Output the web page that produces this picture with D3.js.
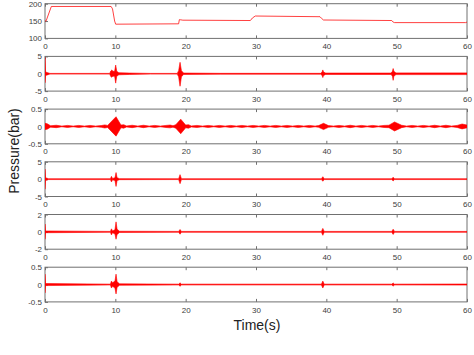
<!DOCTYPE html>
<html><head><meta charset="utf-8">
<script src="https://cdn.jsdelivr.net/npm/d3@7/dist/d3.min.js"></script>
<style>body{margin:0;background:#fff}svg{display:block}</style>
</head><body>
<svg id="c" width="474" height="355"></svg>
<script>
// ---- data ----
const xTicks = [0, 10, 20, 30, 40, 50, 60];
const yDomains = [[100, 200], [-5, 5], [-0.5, 0.5], [-5, 5], [-2, 2], [-0.5, 0.5]];
const yTickVals = [[100, 150, 200], [-5, 0, 5], [-0.5, 0, 0.5], [-5, 0, 5], [-2, 0, 2], [-0.5, 0, 0.5]];
const yTickLabels = [["100", "150", "200"], ["-5", "0", "5"], ["-0.5", "0", "0.5"], ["-5", "0", "5"], ["-2", "0", "2"], ["-0.5", "0", "0.5"]];

// panel 1: pressure trace [time, bar]
const pressureT = [0, 0.15, 0.9, 9.4, 9.6, 9.9, 10.05, 19.0, 19.1, 19.3, 19.6, 29.2, 29.5, 29.9, 39.1, 39.3, 39.6, 49.3, 49.5, 49.7, 59.8, 60];
const pressureV = [150, 150, 192, 192, 185, 150, 141, 142, 154, 153.5, 152.5, 151.5, 159, 164.5, 162.5, 158, 153, 151.5, 147, 145.5, 145.5, 147];

// panels 2-6: signal envelopes [time, upper, lower]
const signal2 = [[0,4.7,-2.6],[0.08,0.5,-0.5],[0.4,0.3,-0.3],[0.7,0.1,-0.1],[9.2,0.1,-0.1],[9.35,0.8,-0.8],[9.5,1.1,-1.0],[9.65,0.7,-0.7],[9.9,0.7,-0.7],[10.05,2.5,-2.7],[10.2,0.7,-0.7],[10.5,0.3,-0.3],[12,0.2,-0.2],[15,0.1,-0.1],[18.8,0.1,-0.1],[19.0,0.9,-0.9],[19.2,3.3,-3.6],[19.4,0.9,-0.9],[19.7,0.2,-0.2],[25,0.12,-0.12],[39.2,0.12,-0.12],[39.4,0.5,-0.5],[39.5,1.1,-1.1],[39.6,0.5,-0.5],[39.9,0.2,-0.2],[49.2,0.2,-0.2],[49.4,0.7,-0.7],[49.5,1.5,-1.9],[49.6,0.7,-0.7],[49.9,0.25,-0.25],[60,0.25,-0.25]];
const signal3 = [[0,0.09,-0.09],[0.3,0.08,-0.08],[0.8,0.02,-0.02],[1.6,0.035,-0.035],[2.4,0.01,-0.01],[3.2,0.03,-0.03],[4.0,0.01,-0.01],[4.8,0.03,-0.03],[5.6,0.01,-0.01],[6.4,0.03,-0.03],[7.2,0.01,-0.01],[8.0,0.025,-0.025],[8.5,0.045,-0.045],[8.9,0.03,-0.03],[9.0,0.05,-0.05],[10.1,0.28,-0.28],[10.8,0.04,-0.04],[11.2,0.05,-0.05],[11.6,0.015,-0.015],[12.4,0.035,-0.035],[13.2,0.01,-0.01],[14.0,0.035,-0.035],[14.8,0.01,-0.01],[15.6,0.03,-0.03],[16.4,0.01,-0.01],[17.2,0.03,-0.03],[17.8,0.04,-0.04],[18.2,0.02,-0.02],[18.6,0.05,-0.05],[19.3,0.21,-0.21],[20.0,0.04,-0.04],[20.4,0.05,-0.05],[20.8,0.015,-0.015],[21.6,0.03,-0.03],[22.4,0.01,-0.01],[23.2,0.03,-0.03],[24.0,0.01,-0.01],[24.8,0.03,-0.03],[25.6,0.01,-0.01],[26.4,0.03,-0.03],[27.2,0.01,-0.01],[28.0,0.03,-0.03],[28.8,0.01,-0.01],[29.6,0.03,-0.03],[30.4,0.01,-0.01],[31.2,0.03,-0.03],[32.0,0.01,-0.01],[32.8,0.03,-0.03],[33.6,0.01,-0.01],[34.4,0.03,-0.03],[35.2,0.01,-0.01],[36.0,0.03,-0.03],[36.8,0.01,-0.01],[37.6,0.03,-0.03],[38.4,0.01,-0.01],[38.9,0.025,-0.025],[39.6,0.09,-0.09],[40.3,0.025,-0.025],[41.0,0.01,-0.01],[41.8,0.03,-0.03],[42.6,0.01,-0.01],[43.4,0.035,-0.035],[44.2,0.01,-0.01],[45.0,0.03,-0.03],[45.8,0.01,-0.01],[46.6,0.03,-0.03],[47.4,0.01,-0.01],[48.2,0.03,-0.03],[48.9,0.035,-0.035],[49.7,0.13,-0.13],[50.7,0.035,-0.035],[51.4,0.01,-0.01],[52.2,0.03,-0.03],[53.0,0.01,-0.01],[53.8,0.03,-0.03],[54.6,0.01,-0.01],[55.4,0.035,-0.035],[56.2,0.01,-0.01],[57.0,0.035,-0.035],[57.8,0.01,-0.01],[58.6,0.03,-0.03],[59.3,0.07,-0.07],[60,0.04,-0.04]];
const signal4 = [[0,2.9,-2.9],[0.08,0.4,-0.4],[0.5,0.12,-0.12],[9.3,0.12,-0.12],[9.45,0.8,-0.8],[9.6,0.2,-0.2],[9.95,0.4,-0.4],[10.1,1.9,-2.1],[10.25,0.4,-0.4],[10.6,0.15,-0.15],[19.0,0.12,-0.12],[19.2,1.3,-1.3],[19.4,0.12,-0.12],[39.3,0.12,-0.12],[39.5,0.7,-0.6],[39.7,0.12,-0.12],[49.3,0.12,-0.12],[49.5,0.55,-0.5],[49.7,0.12,-0.12],[60,0.12,-0.12]];
const signal5 = [[0,0.9,-0.85],[0.08,0.1,-0.1],[9.3,0.05,-0.05],[9.45,0.35,-0.35],[9.6,0.1,-0.1],[9.95,0.25,-0.25],[10.1,1.15,-0.85],[10.25,0.3,-0.3],[10.6,0.07,-0.07],[19.0,0.05,-0.05],[19.2,0.27,-0.27],[19.4,0.05,-0.05],[39.3,0.05,-0.05],[39.5,0.4,-0.4],[39.7,0.05,-0.05],[49.3,0.05,-0.05],[49.5,0.3,-0.3],[49.7,0.05,-0.05],[60,0.05,-0.05]];
const signal6 = [[0,0.3,-0.24],[0.08,0.03,-0.03],[9.3,0.012,-0.012],[9.45,0.1,-0.1],[9.6,0.05,-0.05],[9.95,0.1,-0.1],[10.1,0.3,-0.27],[10.25,0.08,-0.08],[10.6,0.02,-0.02],[19.0,0.012,-0.012],[19.2,0.05,-0.05],[19.4,0.012,-0.012],[39.3,0.012,-0.012],[39.5,0.1,-0.1],[39.7,0.012,-0.012],[49.3,0.012,-0.012],[49.5,0.045,-0.045],[49.7,0.012,-0.012],[60,0.015,-0.015]];
const signals = [null, signal2, signal3, signal4, signal5, signal6];

const xLabel = "Time(s)";
const yLabel = "Pressure(bar)";

// ---- drawing ----
const svg = d3.select("#c");
const left = 45, right = 467, top0 = 3.7, step = 52.7, ph = 34.7;
const frameColor = "#707070", textColor = "#404040", red = "#ff0000";
const font = "'Liberation Sans', Arial, sans-serif";
const x = d3.scaleLinear().domain([0, 60]).range([left, right]);

yDomains.forEach((dom, i) => {
  const t = top0 + i * step, b = t + ph;
  const y = d3.scaleLinear().domain(dom).range([b, t]);
  const g = svg.append("g");
  g.append("clipPath").attr("id", "cp" + i).append("rect")
    .attr("x", left).attr("y", t).attr("width", right - left).attr("height", ph);

  // frame
  g.append("rect").attr("x", left).attr("y", t).attr("width", right - left).attr("height", ph)
    .attr("fill", "none").attr("stroke", frameColor).attr("stroke-width", 1);

  // x ticks (inward top and bottom)
  const xa = d3.axisBottom(x).tickValues(xTicks).tickSize(-3).tickPadding(5).tickFormat(d3.format("d"));
  const gx = g.append("g").attr("transform", `translate(0,${b})`).call(xa);
  gx.select(".domain").remove();
  const xt = d3.axisTop(x).tickValues(xTicks).tickSize(-3).tickFormat("");
  const gxt = g.append("g").attr("transform", `translate(0,${t})`).call(xt);
  gxt.select(".domain").remove();

  // y ticks (inward left)
  const ya = d3.axisLeft(y).tickValues(yTickVals[i]).tickSize(-3).tickPadding(3)
    .tickFormat((d, k) => yTickLabels[i][k]);
  const gy = g.append("g").attr("transform", `translate(${left},0)`).call(ya);
  gy.select(".domain").remove();

  [gx, gxt, gy].forEach(a => {
    a.selectAll("line").attr("stroke", frameColor);
    a.selectAll("text").attr("fill", textColor).style("font-family", font).style("font-size", "8px");
  });

  // data (on top)
  const dg = g.append("g").attr("clip-path", `url(#cp${i})`);
  if (i === 0) {
    const pts = pressureT.map((tt, k) => [tt, pressureV[k]]);
    dg.append("path").datum(pts)
      .attr("d", d3.line().x(d => x(d[0])).y(d => y(d[1])))
      .attr("fill", "none").attr("stroke", red).attr("stroke-width", 1).attr("opacity", 0.75);
  } else {
    const area = d3.area().x(d => x(d[0])).y0(d => y(d[2])).y1(d => y(d[1]));
    dg.append("path").datum(signals[i]).attr("d", area)
      .attr("fill", red).attr("stroke", red).attr("stroke-width", 0.6).attr("stroke-linejoin", "round");
  }
});

svg.append("text").attr("x", 257).attr("y", 330).attr("text-anchor", "middle")
  .style("font-family", font).style("font-size", "14px").attr("fill", "#222").text(xLabel);
svg.append("text").attr("transform", "translate(19,151) rotate(-90)").attr("text-anchor", "middle")
  .style("font-family", font).style("font-size", "14px").attr("fill", "#222").text(yLabel);
</script>
</body></html>
